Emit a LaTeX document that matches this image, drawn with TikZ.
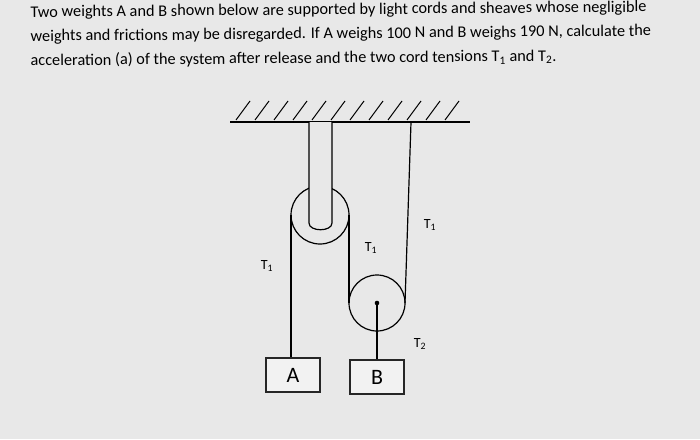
\documentclass[tikz,border=0pt]{standalone}
\usepackage{fontspec}
\setmainfont{Carlito}
\begin{document}
\begin{tikzpicture}[x=1pt,y=-1pt,line width=1.2pt,
  rope/.style={draw=black!85},
  blk/.style={draw=black!85,fill=white!95!black,minimum width=54pt,minimum height=34pt,inner sep=0pt,font=\fontsize{22}{22}\selectfont},
  lbl/.style={font=\fontsize{14}{14}\selectfont},
  txt/.style={anchor=west,font=\fontsize{16.3}{16}\selectfont,rotate=0.5,inner sep=0pt}]
\fill[black!9] (0,0) rectangle (700,439);
\useasboundingbox (0,0) rectangle (700,439);
\node[txt] (l1) at (30,13) {Two weights A and B shown below are supported by light cords and sheaves whose negligible};
\node[txt] (l2) at (30,37) {weights and frictions may be disregarded. If A weighs 100 N and B weighs 190 N, calculate the};
\node[txt] (l3) at (30,61) {acceleration (a) of the system after release and the two cord tensions T\textsubscript{1} and T\textsubscript{2}.};
% ceiling
\coordinate (cl) at (230,122); \coordinate (cr) at (470,122);
\draw (cl) -- (cr);
\foreach \i in {0,...,11} \draw[line width=1pt] (236+\i*19,120) -- (250+\i*19,101);
% upper pulley
\coordinate (p1) at (320,215);
\draw (p1) circle (29);
\fill[black!9] (309,122) -- (309,223) -- (332,223) -- (332,122) -- cycle;
\draw (309,122) -- (309,223) to[out=-90,in=-90] (332,223) -- (332,122);
% lower pulley
\coordinate (p2) at (377,303);
\draw (p2) circle (28);
\fill (p2) circle (2.3);
% blocks
\node[blk] (A) at (293,375) {A};
\node[blk] (B) at (377,377) {B};
% ropes
\draw (291,215) -- (A.north -| 291,0);
\draw (349,215) -- (349,303);
\draw (405,303) -- (411,122);
\draw (p2) -- (B.north);
% labels
\node[lbl] (t1a) at (267,266) {T\textsubscript{1}};
\node[lbl] (t1b) at (371,248) {T\textsubscript{1}};
\node[lbl] (t1c) at (430,225) {T\textsubscript{1}};
\node[lbl] (t2) at (420,344) {T\textsubscript{2}};
\end{tikzpicture}
\end{document}
